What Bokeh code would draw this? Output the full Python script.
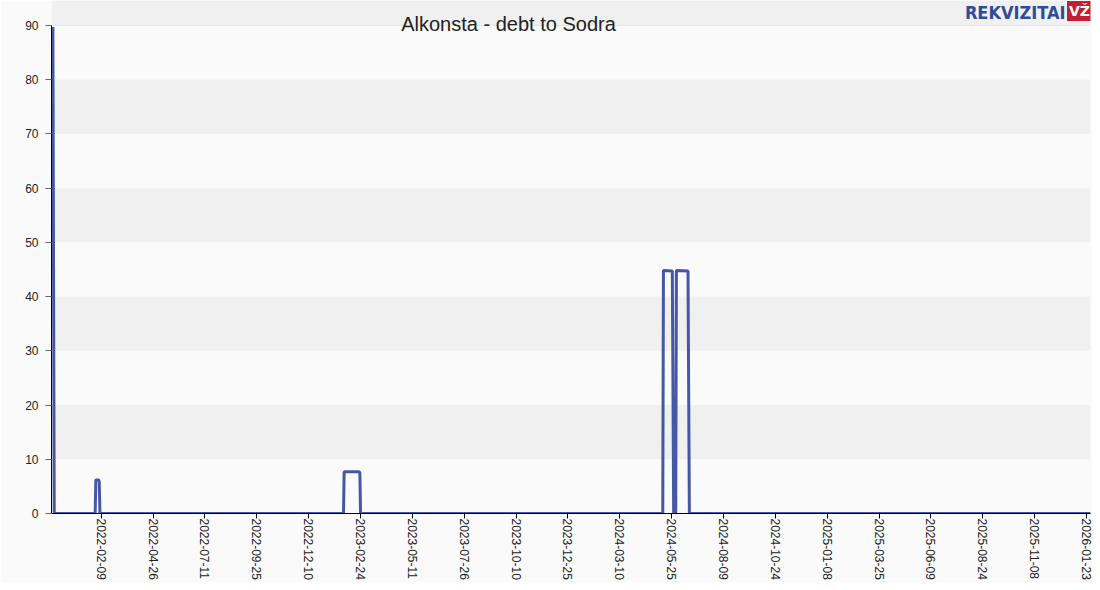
import pandas as pd
from bokeh.plotting import figure
from bokeh.models import (Range1d, FixedTicker, DatetimeTickFormatter, Label,
                          ColumnDataSource, Grid)
from bokeh.embed import file_html
from bokeh.resources import INLINE

# ---- data ----
title_text = "Alkonsta - debt to Sodra"
dates = ["2021-11-27", "2021-11-30", "2021-12-02",
         "2022-01-31", "2022-02-01", "2022-02-05", "2022-02-06", "2022-02-07",
         "2023-01-30", "2023-01-31", "2023-02-22", "2023-02-23", "2023-02-24",
         "2024-05-12", "2024-05-13", "2024-05-26", "2024-05-28",
         "2024-05-31", "2024-06-01", "2024-06-18", "2024-06-20",
         "2026-01-29"]
debt = [45, 89.7, 0,
        0, 6.2, 6.2, 5.9, 0,
        0, 7.7, 7.7, 7.5, 0,
        0, 44.8, 44.7, 0,
        0, 44.8, 44.7, 0,
        0]
x_start, x_end = "2021-11-28", "2026-01-29"
tick_dates = ["2022-02-09", "2022-04-26", "2022-07-11", "2022-09-25", "2022-12-10",
              "2023-02-24", "2023-05-11", "2023-07-26", "2023-10-10", "2023-12-25",
              "2024-03-10", "2024-05-25", "2024-08-09", "2024-10-24", "2025-01-08",
              "2025-03-25", "2025-06-09", "2025-08-24", "2025-11-08", "2026-01-23"]
y_ticks = [0, 10, 20, 30, 40, 50, 60, 70, 80, 90]
y_max = 90          # top of the value axis
y_headroom = 94.6   # visible space above it, for title and logo

FONT = "Liberation Sans"
BG = "#fafafa"
LINE = "#3b4ea0"
FRAME = "#e6e6e6"

src = ColumnDataSource(dict(date=pd.to_datetime(dates), debt=debt))

p = figure(width=1092, height=582, x_axis_type="datetime",
           output_backend="svg", toolbar_location=None,
           x_range=Range1d(pd.Timestamp(x_start), pd.Timestamp(x_end)),
           y_range=Range1d(0, y_headroom),
           min_border_left=51, min_border_right=2, min_border_top=0,
           background_fill_color=BG, border_fill_color=BG,
           outline_line_color=None)

# axes
xt = [pd.Timestamp(d).value // 10**6 for d in tick_dates]
p.xaxis.ticker = FixedTicker(ticks=xt)
fmt = "%Y-%m-%d"
p.xaxis.formatter = DatetimeTickFormatter(microseconds=fmt, milliseconds=fmt, seconds=fmt,
                                          minsec=fmt, minutes=fmt, hourmin=fmt, hours=fmt,
                                          days=fmt, months=fmt, years=fmt)
p.xaxis.major_label_orientation = "vertical"
p.xaxis.major_label_standoff = 0
p.xaxis.major_tick_out = 5
p.xaxis.major_tick_in = 0
p.xaxis.minor_tick_line_color = None
p.xaxis.axis_line_color = "black"
p.xaxis.major_tick_line_color = "black"

p.yaxis.ticker = FixedTicker(ticks=y_ticks)
p.yaxis.bounds = (0, y_max)
p.yaxis.major_label_standoff = 7
p.yaxis.major_tick_out = 6
p.yaxis.major_tick_in = 0
p.yaxis.minor_tick_line_color = None
p.yaxis.axis_line_color = "black"
p.yaxis.major_tick_line_color = "#666666"

for ax in (p.xaxis, p.yaxis):
    ax.major_label_text_font = FONT
    ax.major_label_text_font_size = "12px"
    ax.major_label_text_color = "#222222"

p.xgrid.grid_line_color = None
p.ygrid.grid_line_color = None
p.ygrid.band_fill_color = "#f0f0f0"
p.ygrid.band_fill_alpha = 1.0

# plot-area border (top and right)
p.add_layout(Grid(dimension=1, ticker=FixedTicker(ticks=[y_max]), grid_line_color=FRAME))
p.add_layout(Grid(dimension=0, ticker=FixedTicker(ticks=[pd.Timestamp(x_end).value // 10**6]),
                  grid_line_color=FRAME, grid_line_width=2, bounds=(0, y_max)))

p.line(x="date", y="debt", source=src, line_color=LINE, line_width=3, line_alpha=0.95)

# title
p.add_layout(Label(x=457, x_units="screen", y=90.28, text=title_text,
                   text_font=FONT, text_font_size="20px", text_color="#222222",
                   text_align="center", text_baseline="middle"))
# logo
p.add_layout(Label(x=1014, x_units="screen", y=92.44, text="REKVIZITAI",
                   text_font="DejaVu Sans Condensed", text_font_style="bold",
                   text_font_size="18px", text_color="#2f4b9c",
                   text_align="right", text_baseline="middle"))
p.add_layout(Label(x=1028, x_units="screen", y=92.66, text="VŽ",
                   text_font="DejaVu Sans", text_font_style="bold",
                   text_font_size="14px", text_color="white",
                   background_fill_color="#c41e33", padding=2,
                   text_align="center", text_baseline="middle"))

open("out.html", "w").write(file_html(p, INLINE))
